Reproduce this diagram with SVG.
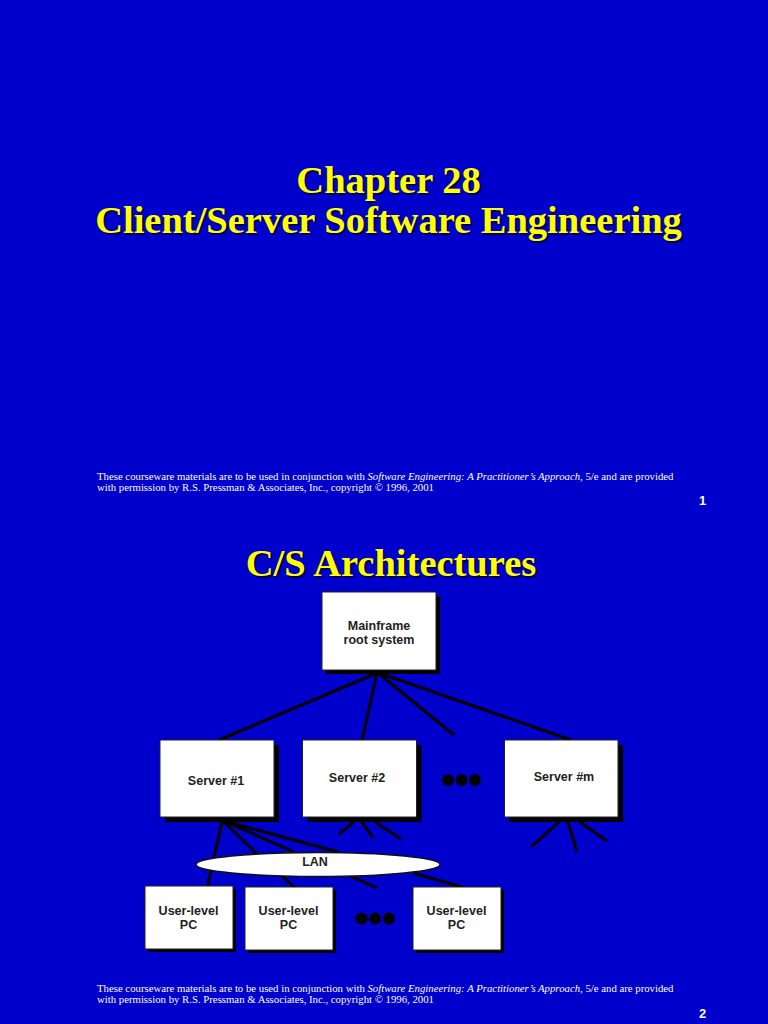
<svg xmlns="http://www.w3.org/2000/svg" width="768" height="1024" viewBox="0 0 768 1024">
<style>
.title{font-family:"Liberation Serif",serif;font-weight:bold;font-size:38.500px;fill:#ffff00;text-anchor:middle}
.tshadow{fill:#000055}
.foot{font-family:"Liberation Serif",serif;font-size:10.750px;fill:#ffffff}
.num{font-family:"Liberation Sans",sans-serif;font-weight:bold;font-size:13px;fill:#ffffff}
.lbl{font-family:"Liberation Sans",sans-serif;font-weight:bold;font-size:12.500px;fill:#222222;text-anchor:middle}
.box{fill:#ffffff;stroke:#222222;stroke-width:1}
.sh{fill:#000000}
.ln{stroke:#000000;stroke-width:3;fill:none}
</style>
<rect width="768" height="1024" fill="#0000cc"/>
<g id="slide1-title">
<text class="title tshadow" x="390.500" y="194.500">Chapter 28</text>
<text class="title tshadow" x="390.500" y="234.500">Client/Server Software Engineering</text>
<text class="title" x="388.500" y="192.500">Chapter 28</text>
<text class="title" x="388.500" y="232.500">Client/Server Software Engineering</text>
</g>
<g id="slide1-footer">
<text class="foot" x="97" y="480">These courseware materials are to be used in conjunction with <tspan font-style="italic">Software Engineering: A Practitioner’s Approach,</tspan> 5/e and are provided</text>
<text class="foot" x="97" y="491">with permission by R.S. Pressman &amp; Associates, Inc., copyright © 1996, 2001</text>
<text class="num" x="699" y="505">1</text>
</g>
<g id="slide2-title">
<text class="title tshadow" x="393" y="577.500">C/S Architectures</text>
<text class="title" x="391" y="575.500">C/S Architectures</text>
</g>
<g id="connectors">
<path class="ln" d="M377 673L219 740M377 673L362 740M378 673L454 735M379 673L571 740"/>
<path class="ln" d="M354 822L339 834M362 822L373 838M375 822L401 839"/>
<path class="ln" d="M559 822L531 847M568 822L577 852M580 822L607 841"/>
<path class="ln" d="M222 822L207 888M224 822L257 854M226 822L294 852M228 822L338 852"/>
<path class="ln" d="M282 876L295 888M350 876L377 888M413 873L462 887"/>
</g>
<g id="mainframe">
<rect class="sh" x="326" y="596" width="114" height="78"/>
<rect class="box" x="322" y="592" width="114" height="78"/>
<text class="lbl" x="379" y="630">Mainframe</text>
<text class="lbl" x="379" y="644">root system</text>
</g>
<g id="server1">
<rect class="sh" x="165" y="745" width="114" height="77"/>
<rect class="box" x="160" y="740" width="114" height="77"/>
<text class="lbl" x="216" y="785">Server #1</text>
</g>
<g id="server2">
<rect class="sh" x="307.500" y="745" width="114" height="77"/>
<rect class="box" x="302.500" y="740" width="114" height="77"/>
<text class="lbl" x="357" y="782">Server #2</text>
</g>
<g id="serverm">
<rect class="sh" x="509" y="745" width="114" height="77"/>
<rect class="box" x="504.500" y="740" width="113.500" height="77"/>
<text class="lbl" x="564" y="781">Server #m</text>
</g>
<g id="dots-servers" fill="#000000">
<circle cx="448" cy="780" r="6"/><circle cx="461.500" cy="780" r="6"/><circle cx="475" cy="780" r="6"/>
</g>
<g id="lan">
<ellipse cx="318" cy="864.500" rx="122" ry="12" fill="#ffffff" stroke="#111111" stroke-width="1.500"/>
<text class="lbl" x="315" y="866">LAN</text>
</g>
<g id="pc1">
<rect class="sh" x="148" y="889" width="88" height="63"/>
<rect class="box" x="145" y="886" width="88" height="63"/>
<text class="lbl" x="188.500" y="915">User-level</text>
<text class="lbl" x="188.500" y="929">PC</text>
</g>
<g id="pc2">
<rect class="sh" x="248" y="890" width="88" height="63"/>
<rect class="box" x="245" y="887" width="88" height="63"/>
<text class="lbl" x="288.500" y="915">User-level</text>
<text class="lbl" x="288.500" y="929">PC</text>
</g>
<g id="pc3">
<rect class="sh" x="416" y="890" width="88" height="63"/>
<rect class="box" x="413" y="887" width="88" height="63"/>
<text class="lbl" x="456.500" y="915">User-level</text>
<text class="lbl" x="456.500" y="929">PC</text>
</g>
<g id="dots-pcs" fill="#000000">
<circle cx="361.500" cy="918.500" r="6"/><circle cx="375" cy="918.500" r="6"/><circle cx="389" cy="918.500" r="6"/>
</g>
<g id="slide2-footer">
<text class="foot" x="97" y="992">These courseware materials are to be used in conjunction with <tspan font-style="italic">Software Engineering: A Practitioner’s Approach,</tspan> 5/e and are provided</text>
<text class="foot" x="97" y="1003">with permission by R.S. Pressman &amp; Associates, Inc., copyright © 1996, 2001</text>
<text class="num" x="699" y="1018">2</text>
</g>
</svg>
